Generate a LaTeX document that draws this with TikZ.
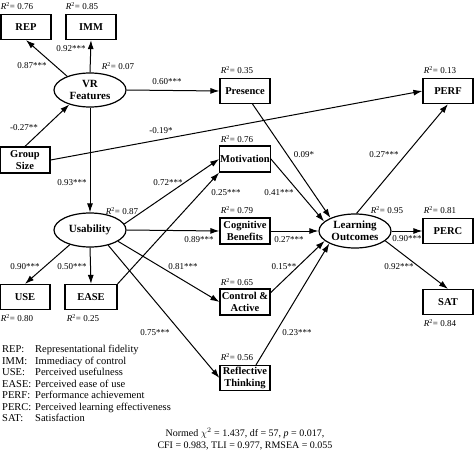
\documentclass[tikz,border=0pt]{standalone}
\usepackage{fontspec}
\setmainfont{Liberation Serif}
\usetikzlibrary{arrows.meta,positioning,shapes.geometric,calc}

\newcommand{\rsq}[1]{\textit{R}\textsuperscript{2}= #1}

\begin{document}
\begin{tikzpicture}[
  x=1pt,y=-1pt,
  every node/.style={font=\fontsize{9}{10}\selectfont},
  obs/.style={draw,line width=1.2pt,minimum width=50pt,minimum height=25pt,
              inner sep=0.5pt,align=center,font=\fontsize{10.5}{11.5}\selectfont\bfseries},
  lat/.style={draw,line width=1.2pt,ellipse,minimum width=72pt,minimum height=34pt,
              inner sep=0pt,align=center,font=\fontsize{11}{12}\selectfont\bfseries},
  path/.style={-{Latex[length=9pt,width=6pt]},line width=1pt},
  est/.style={font=\fontsize{9}{10}\selectfont,inner sep=0pt}
]
\useasboundingbox (0,0) rectangle (474,455);
% Latent constructs
\node[lat] (VR)   at (90,90)   {VR\\Features};
\node[lat] (Usab) at (90,230)  {Usability};
\node[lat] (LO)   at (355,231) {Learning\\Outcomes};
% Indicators and mediators
\node[obs] (REP)  at (26,27)   {REP};
\node[obs] (IMM)  at (91,27)   {IMM};
\node[obs,minimum height=26pt] (GS) at (25,160) {Group\\Size};
\node[obs] (USE)  at (25,297)  {USE};
\node[obs,minimum width=52pt] (EASE) at (91,297) {EASE};
\node[obs] (Pres) at (245,91)  {Presence};
\node[obs,minimum height=26pt] (Mot)  at (245,159) {Motivation};
\node[obs,minimum height=26pt] (Cog)  at (245,231) {Cognitive\\Benefits};
\node[obs,minimum height=26pt] (Ctrl) at (245,302) {Control \&\\Active};
\node[obs,minimum height=25pt] (Refl) at (245,378) {Reflective\\Thinking};
\node[obs] (PERF) at (448,91)  {PERF};
\node[obs] (PERC) at (448,231) {PERC};
\node[obs] (SAT)  at (448,302) {SAT};
% R-squared values
\node[est] at (17,6)    {\rsq{0.76}};
\node[est] at (82,6)    {\rsq{0.85}};
\node[est] at (118,66)  {\rsq{0.07}};
\node[est] at (237,70)  {\rsq{0.35}};
\node[est] at (440,70)  {\rsq{0.13}};
\node[est] at (237,139) {\rsq{0.76}};
\node[est] at (122,211) {\rsq{0.87}};
\node[est] at (237,210) {\rsq{0.79}};
\node[est] at (387,210) {\rsq{0.95}};
\node[est] at (440,210) {\rsq{0.81}};
\node[est] at (237,282) {\rsq{0.65}};
\node[est] at (17,318)  {\rsq{0.80}};
\node[est] at (83,318)  {\rsq{0.25}};
\node[est] at (440,323) {\rsq{0.84}};
\node[est] at (237,357) {\rsq{0.56}};
% Paths
\draw[path] (VR.149) -- (REP.south);
\draw[path] (VR.north) -- (IMM.south);
\draw[path] (VR.east) -- (Pres.west);
\draw[path] (GS.north) -- (VR.215);
\draw[path] (GS.east) -- (PERF.west);
\draw[path] (VR.south) -- (Usab.north);
\draw[path] (Usab.10) -- (Mot.west);
\draw[path] (EASE.north east) -- (Mot.south west);
\draw[path] (Usab.east) -- (Cog.west);
\draw[path] (Usab.-22) -- (Ctrl.west);
\draw[path] (Usab.-40) -- (Refl.west);
\draw[path] (Usab.216) -- (USE.north);
\draw[path] (Usab.south) -- (EASE.north);
\draw[path] (Pres.-60) -- (LO.152);
\draw[path] (Mot.east) -- (LO.163);
\draw[path] (Cog.east) -- (LO.west);
\draw[path] (Ctrl.20) -- (LO.198);
\draw[path] (Refl.50) -- (LO.206);
\draw[path] (LO.85) -- (PERF.south);
\draw[path] (LO.east) -- (PERC.west);
\draw[path] (LO.-18) -- (SAT.north);
% Path coefficients
\node[est] at (32,66)   {0.87***};
\node[est] at (71,49)   {0.92***};
\node[est] at (167,82)  {0.60***};
\node[est] at (24,128)  {-0.27**};
\node[est] at (161,131) {-0.19*};
\node[est] at (72,183)  {0.93***};
\node[est] at (168,183) {0.72***};
\node[est] at (304,155) {0.09*};
\node[est] at (384,155) {0.27***};
\node[est] at (226,193) {0.25***};
\node[est] at (279,193) {0.41***};
\node[est] at (199,240) {0.89***};
\node[est] at (289,240) {0.27***};
\node[est] at (407,239) {0.90***};
\node[est] at (25,267)  {0.90***};
\node[est] at (72,267)  {0.50***};
\node[est] at (183,267) {0.81***};
\node[est] at (284,267) {0.15**};
\node[est] at (399,267) {0.92***};
\node[est] at (155,333) {0.75***};
\node[est] at (297,333) {0.23***};
% Legend
\node[anchor=north west,inner sep=0pt,align=left,font=\fontsize{10.5}{11.5}\selectfont] (legend) at (2,345)
  {\makebox[33pt][l]{REP:}Representational fidelity\\
   \makebox[33pt][l]{IMM:}Immediacy of control\\
   \makebox[33pt][l]{USE:}Perceived usefulness\\
   \makebox[33pt][l]{EASE:}Perceived ease of use\\
   \makebox[33pt][l]{PERF:}Performance achievement\\
   \makebox[33pt][l]{PERC:}Perceived learning effectiveness\\
   \makebox[33pt][l]{SAT:}Satisfaction};
% Fit indices
\node[align=center,inner sep=0pt,font=\fontsize{10}{12}\selectfont] (fit) at (245,439)
  {Normed $\chi^2$ = 1.437, df = 57, \textit{p} = 0.017,\\
   CFI = 0.983, TLI = 0.977, RMSEA = 0.055};
\end{tikzpicture}
\end{document}
